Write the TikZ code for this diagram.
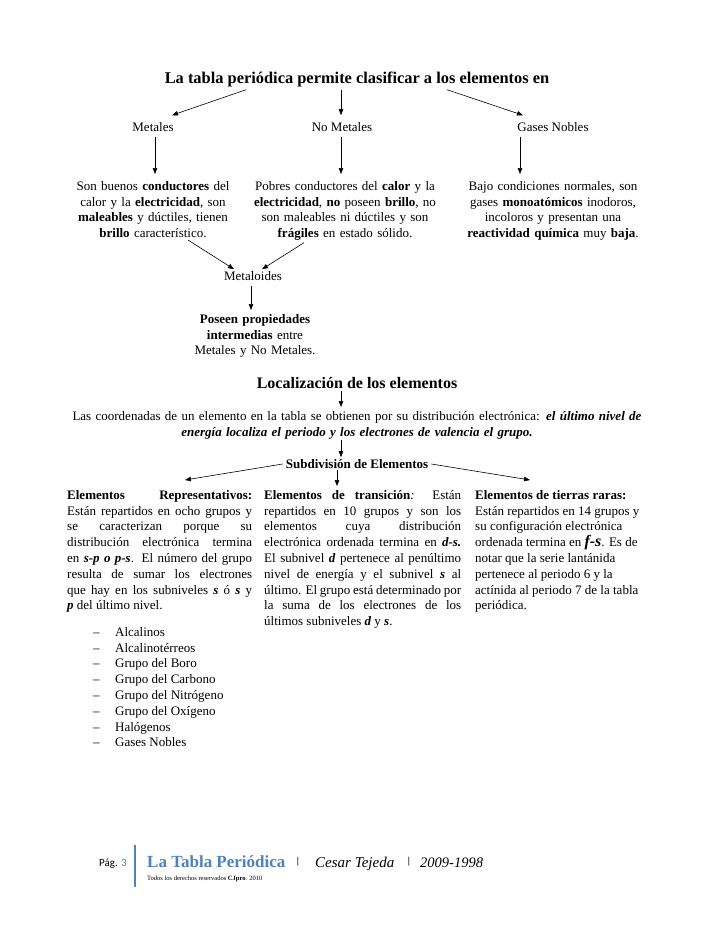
\documentclass[tikz,border=0pt]{standalone}
\usepackage{fontspec}
\setmainfont{Liberation Serif}
\newfontfamily\calibri{Carlito}
\usetikzlibrary{arrows.meta,positioning}
\definecolor{footblue}{RGB}{79,129,189}
\newcommand{\bi}[1]{\textbf{\textit{#1}}}

\begin{document}
\begin{tikzpicture}[
x=1pt, y=-1pt,
txt/.style={inner sep=0pt, font=\fontsize{13}{15.8}\selectfont},
blk/.style={txt, align=center, text width=#1, anchor=north},
col/.style={txt, align=justify, text width=#1, anchor=north west},
head/.style={inner sep=0pt, font=\bfseries\fontsize{#1}{#1}\selectfont},
arr/.style={-{Triangle[length=6pt,width=4.5pt]}, semithick}
]
\useasboundingbox (0,0) rectangle (728,943);

% clasificacion
\node[head=16.4] (title) at (357,79) {La tabla periódica permite clasificar a los elementos en};
\node[txt] (metales) at (153,127) {Metales};
\node[txt] (nometales) at (342,127) {No Metales};
\node[txt] (gases) at (553,127) {Gases Nobles};

\node[blk=170pt] (mblock) at (153,181) {Son buenos \textbf{conductores} del\\ calor y la \textbf{electricidad}, son\\ \textbf{maleables} y dúctiles, tienen\\ \textbf{brillo} característico.};
\node[blk=200pt] (nblock) at (345,181) {Pobres conductores del \textbf{calor} y la\\ \textbf{electricidad}, \textbf{no} poseen \textbf{brillo}, no\\ son maleables ni dúctiles y son\\ \textbf{frágiles} en estado sólido.};
\node[blk=195pt] (gblock) at (553,181) {Bajo condiciones normales, son\\ gases \textbf{monoatómicos} inodoros,\\ incoloros y presentan una\\ \textbf{reactividad química} muy \textbf{baja}.};

\node[txt] (metaloides) at (253,276) {Metaloides};
\node[blk=140pt] (poseen) at (255,314) {\textbf{Poseen propiedades}\\ \textbf{intermedias} entre\\ Metales y No Metales.};

\draw[arr] ([xshift=-111pt,yshift=-3pt]title.south) -- ([xshift=19pt,yshift=7pt]metales.north);
\draw[arr] ([xshift=-16pt,yshift=-3pt]title.south) -- ([xshift=-1pt,yshift=7pt]nometales.north);
\draw[arr] ([xshift=90pt,yshift=-3pt]title.south) -- ([xshift=-30pt,yshift=7pt]gases.north);
\draw[arr] ([xshift=2pt,yshift=-5pt]metales.south) -- ([xshift=2pt,yshift=7pt]mblock.north);
\draw[arr] ([xshift=-1pt,yshift=-5pt]nometales.south) -- ([xshift=-4pt,yshift=7pt]nblock.north);
\draw[arr] ([xshift=-33pt,yshift=-5pt]gases.south) -- ([xshift=-33pt,yshift=7pt]gblock.north);
\draw[arr] ([xshift=35pt,yshift=-2pt]mblock.south) -- ([xshift=-19pt,yshift=2pt]metaloides.north);
\draw[arr] ([xshift=-41pt,yshift=-2pt]nblock.south) -- ([xshift=9pt,yshift=2pt]metaloides.north);
\draw[arr] ([xshift=-2pt,yshift=-5pt]metaloides.south) -- ([xshift=-4pt,yshift=4pt]poseen.north);

% localizacion
\node[head=16] (loc) at (357,383) {Localización de los elementos};
\node[blk=620pt] (coord) at (357,411) {Las coordenadas de un elemento en la tabla se obtienen por su distribución electrónica: \bi{el último nivel de}\\ \bi{energía localiza el periodo y los electrones de valencia el grupo.}};
\node[head=13] (subdiv) at (357,464) {Subdivisión de Elementos};

\draw[arr] ([xshift=-16pt,yshift=-2pt]loc.south) -- ([xshift=-16pt,yshift=4pt]coord.north);
\draw[arr] ([xshift=-16pt,yshift=-1pt]coord.south) -- ([xshift=-16pt,yshift=2pt]subdiv.north);

% subdivision
\node[col=185pt] (repr) at (67,490) {\textbf{Elementos Representativos:}\linebreak
Están repartidos en ocho grupos y\linebreak
se caracterizan porque su\linebreak
distribución electrónica termina\linebreak
en \bi{s-p o p-s}. El número del grupo\linebreak
resulta de sumar los electrones\linebreak
que hay en los subniveles \bi{s} ó \bi{s} y\linebreak
\bi{p} del último nivel.};
\node[col=197pt] (trans) at (264,490) {\textbf{Elementos de transición}\textit{:} Están\linebreak
repartidos en 10 grupos y son los\linebreak
elementos cuya distribución\linebreak
electrónica ordenada termina en \bi{d-s.}\linebreak
El subnivel \bi{d} pertenece al penúltimo\linebreak
nivel de energía y el subnivel \bi{s} al\linebreak
último. El grupo está determinado por\linebreak
la suma de los electrones de los\linebreak
últimos subniveles \bi{d} y \bi{s}.};
\node[txt, align=left, anchor=north west] (raras) at (475,490) {\textbf{Elementos de tierras raras:}\\
Están repartidos en 14 grupos y\\
su configuración electrónica\\
ordenada termina en {\fontsize{16}{16}\selectfont\bi{f-s}}. Es de\\
notar que la serie lantánida\\
pertenece al periodo 6 y la\\
actínida al periodo 7 de la tabla\\
periódica.};

\draw[arr] ([xshift=-3pt]subdiv.west) -- ([xshift=118pt,yshift=10pt]repr.north west);
\draw[arr] ([xshift=3pt]subdiv.east) -- ([xshift=55pt,yshift=10pt]raras.north west);
\draw[arr] ([xshift=-20pt,yshift=-1pt]subdiv.south) -- ([xshift=73pt,yshift=4pt]trans.north west);

\node[txt, align=left, anchor=north west] (grupos) at (93,627) {%
\makebox[22pt][l]{--}Alcalinos\\
\makebox[22pt][l]{--}Alcalinotérreos\\
\makebox[22pt][l]{--}Grupo del Boro\\
\makebox[22pt][l]{--}Grupo del Carbono\\
\makebox[22pt][l]{--}Grupo del Nitrógeno\\
\makebox[22pt][l]{--}Grupo del Oxígeno\\
\makebox[22pt][l]{--}Halógenos\\
\makebox[22pt][l]{--}Gases Nobles};

% pie de pagina
\node[inner sep=0pt, anchor=base east, font=\calibri\fontsize{11}{11}\selectfont] (pag) at (127,866) {Pág. \textcolor{footblue}{3}};
\draw[footblue, line width=2.5pt] (135,845) -- (135,887);
\node[inner sep=0pt, anchor=base west, text=footblue, font=\bfseries\fontsize{17}{17}\selectfont] (footer) at (147,867) {La Tabla Periódica};
\node[inner sep=0pt, anchor=base west, font=\fontsize{6.5}{6.5}\selectfont] (derechos) at (147,880) {Todos los derechos reservados \textbf{CJpro}. 2010};
\node[inner sep=0pt, font=\calibri\fontsize{10}{10}\selectfont] (sep1) at (298,862) {|};
\node[inner sep=0pt, anchor=base west, font=\itshape\fontsize{15}{15}\selectfont] (autor) at (315,867) {Cesar Tejeda};
\node[inner sep=0pt, font=\calibri\fontsize{10}{10}\selectfont] (sep2) at (409,862) {|};
\node[inner sep=0pt, anchor=base west, font=\itshape\fontsize{14.5}{14.5}\selectfont] (anios) at (420,867) {2009-1998};
\end{tikzpicture}
\end{document}
